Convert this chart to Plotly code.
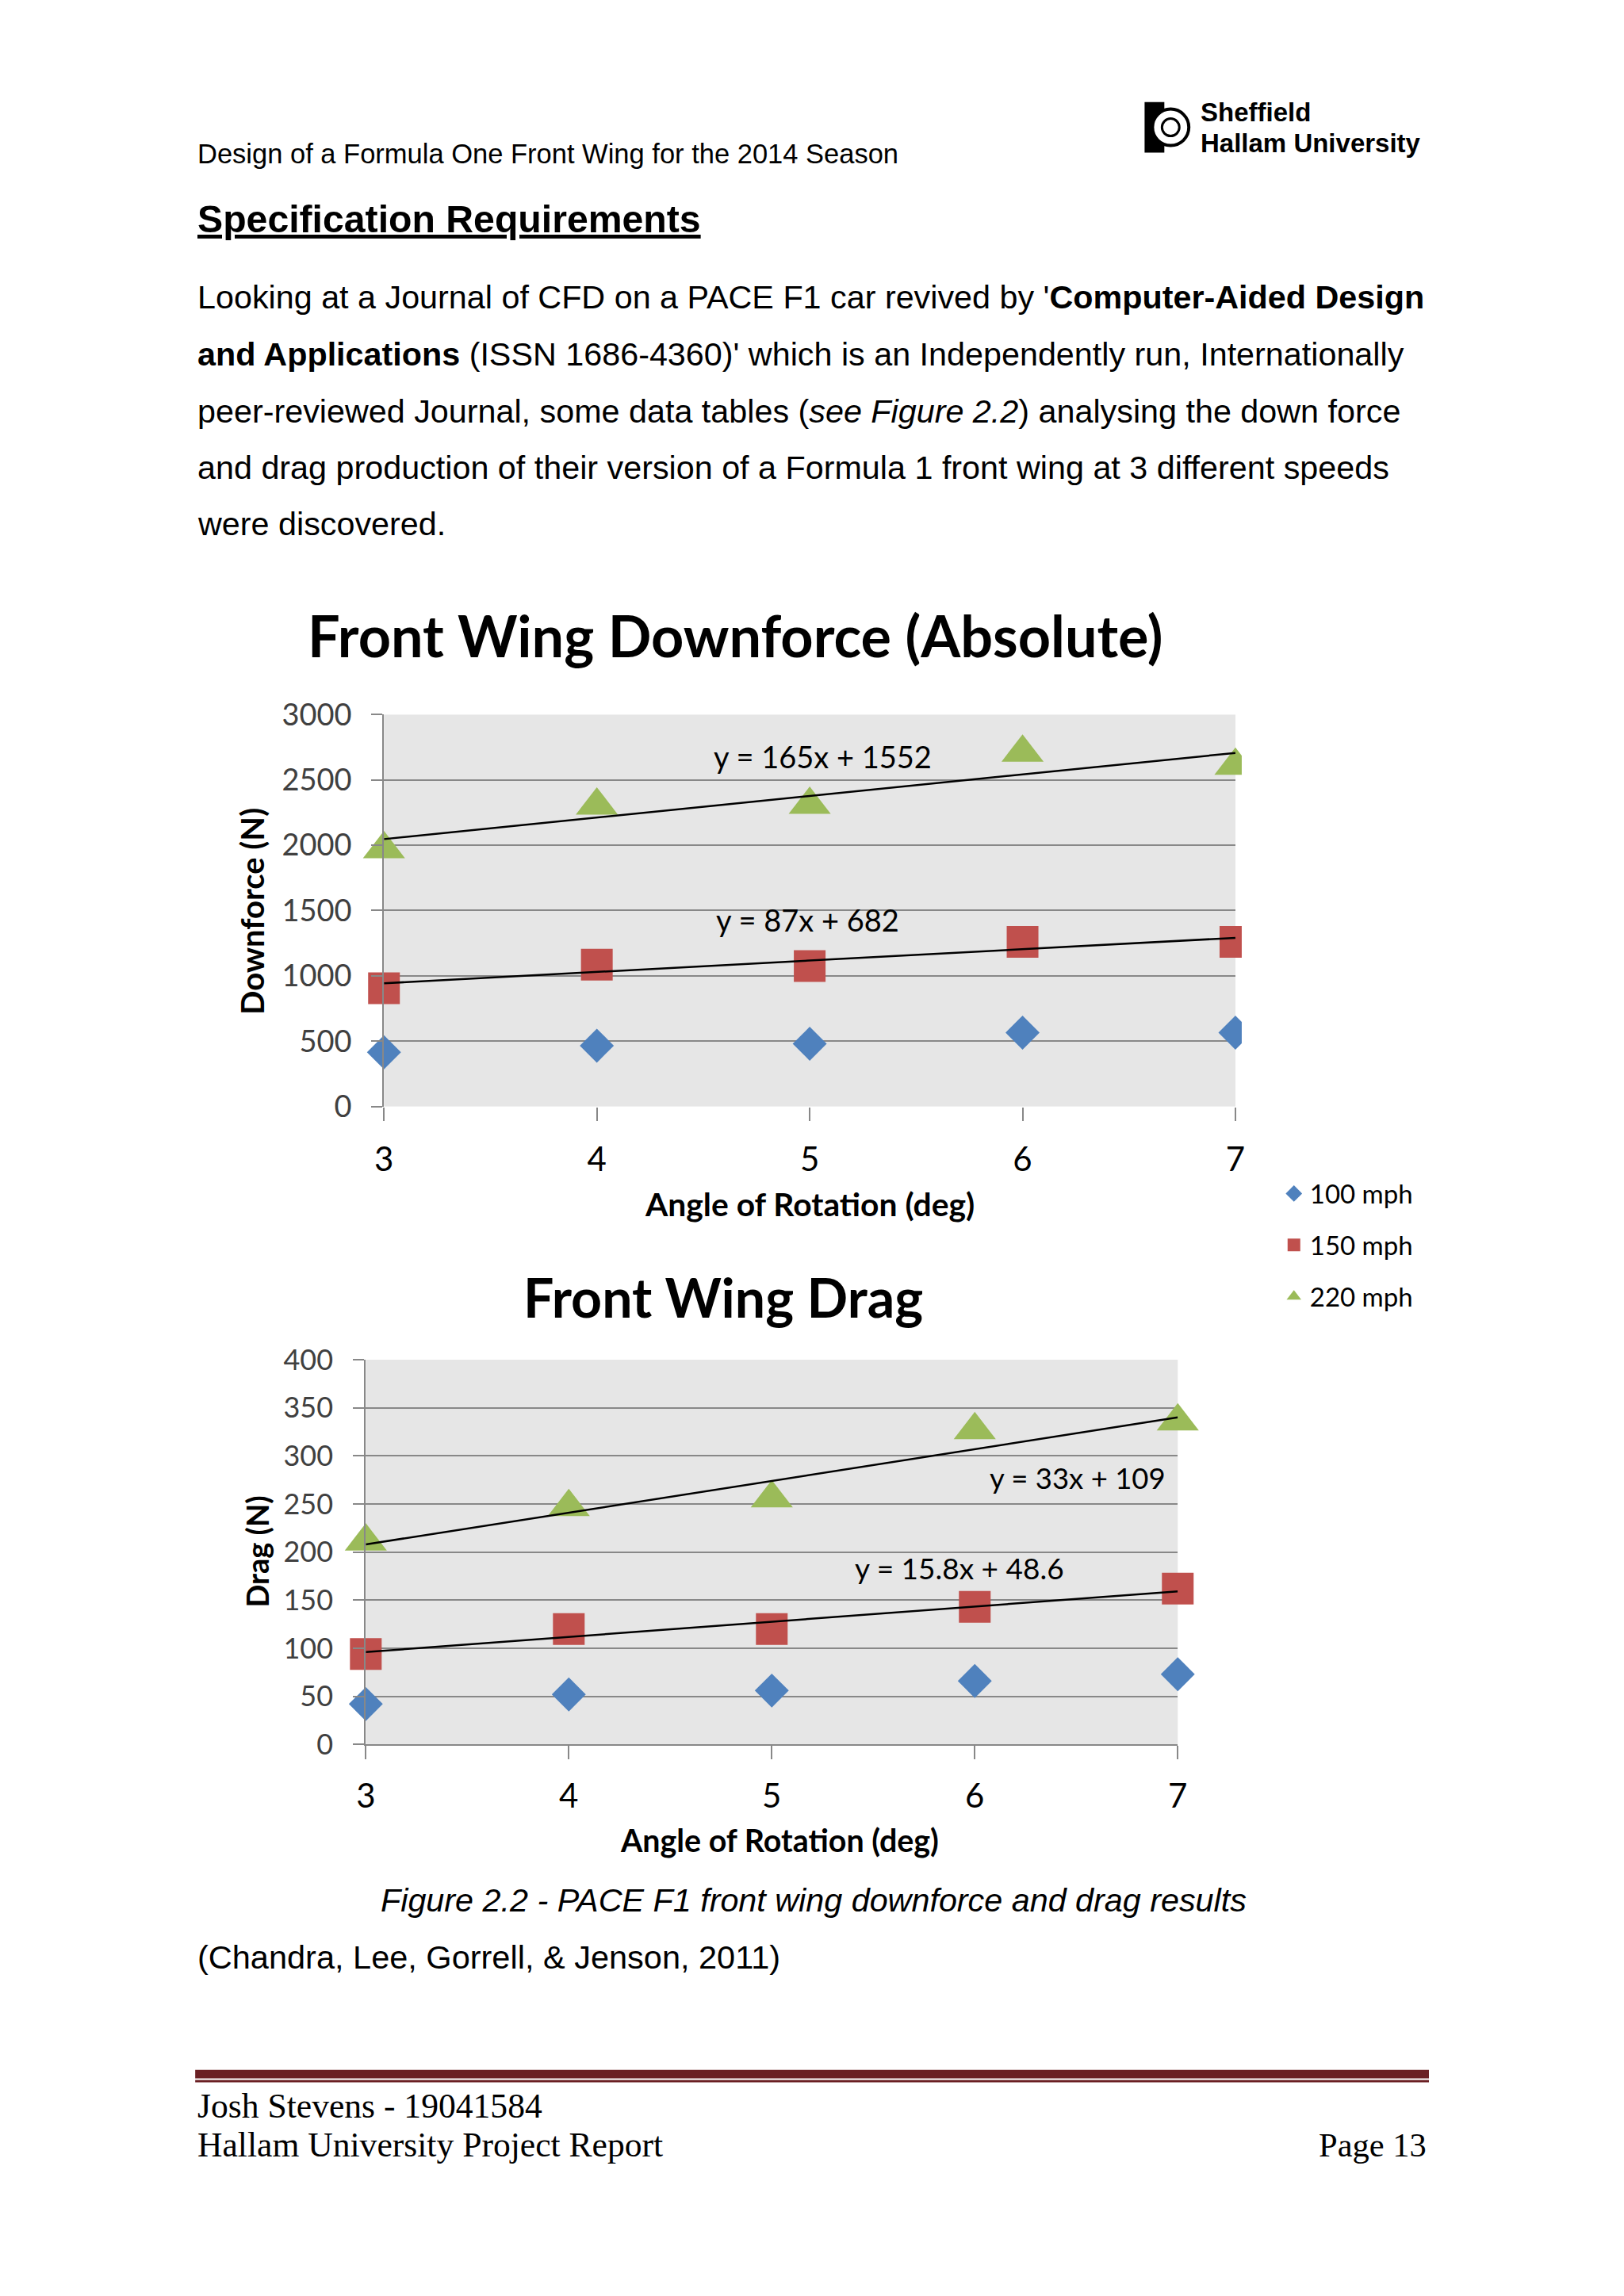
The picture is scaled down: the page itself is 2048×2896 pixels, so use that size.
import plotly.graph_objects as go

W, H = 2048, 2896

# ---------------- data ----------------
angles = [3, 4, 5, 6, 7]
speed_labels = ["100 mph", "150 mph", "220 mph"]

downforce_100 = [415, 465, 480, 565, 565]
downforce_150 = [905, 1085, 1075, 1260, 1260]
downforce_220 = [1970, 2305, 2310, 2710, 2610]

drag_100 = [42, 52, 56, 66, 73]
drag_150 = [94, 120, 120, 143, 162]
drag_220 = [211, 247, 256, 327, 336]

# linear trend lines (slope, intercept) as printed on the charts
downforce_trend_slope = [87, 165]
downforce_trend_intercept = [682, 1552]
downforce_trend_text = ["y = 87x + 682", "y = 165x + 1552"]
drag_trend_slope = [15.8, 33]
drag_trend_intercept = [48.6, 109]
drag_trend_text = ["y = 15.8x + 48.6", "y = 33x + 109"]

y_ticks_downforce = [0, 500, 1000, 1500, 2000, 2500, 3000]
y_ticks_drag = [0, 50, 100, 150, 200, 250, 300, 350, 400]

# ---------------- styles ----------------
colors = ["#4F81BD", "#C0504D", "#9BBB59"]
symbols = ["diamond", "square", "triangle-up"]
msizes = [33, 40, 46]
GRID = "#888888"
PLOTBG = "#E6E6E6"
CHART_FONT = "Lato, Carlito, Calibri, sans-serif"
DOC_FONT = "Liberation Sans, Arial, sans-serif"
SERIF = "Liberation Serif, Cambria, serif"

# page -> screenshot compensation (page margins are scaled into the capture)
AX, BX = 0.9922, 7.9
AY, BY = 0.9857, 22.2


def px(x):
    return ((x - BX) / AX) / W


def py(y):
    return 1 - ((y - BY) / AY) / H


fig = go.Figure()

# ---------------- top chart: downforce ----------------
for i, vals in enumerate([downforce_100, downforce_150, downforce_220]):
    fig.add_trace(go.Scatter(
        x=angles, y=vals, mode="markers", name=speed_labels[i],
        legendgroup=speed_labels[i], showlegend=True, cliponaxis=False,
        marker=dict(symbol=symbols[i], size=msizes[i], color=colors[i], line=dict(width=0)),
        xaxis="x", yaxis="y"))

for s, b in zip(downforce_trend_slope, downforce_trend_intercept):
    xs = [angles[0], angles[-1]]
    fig.add_trace(go.Scatter(x=xs, y=[s * v + b for v in xs], mode="lines",
                             line=dict(color="#000000", width=2.5), showlegend=False,
                             hoverinfo="skip", xaxis="x", yaxis="y"))

# ---------------- bottom chart: drag ----------------
for i, vals in enumerate([drag_100, drag_150, drag_220]):
    fig.add_trace(go.Scatter(
        x=angles, y=vals, mode="markers", name=speed_labels[i],
        legendgroup=speed_labels[i], showlegend=False, cliponaxis=False,
        marker=dict(symbol=symbols[i], size=msizes[i], color=colors[i], line=dict(width=0)),
        xaxis="x2", yaxis="y2"))

for s, b in zip(drag_trend_slope, drag_trend_intercept):
    xs = [angles[0], angles[-1]]
    fig.add_trace(go.Scatter(x=xs, y=[s * v + b for v in xs], mode="lines",
                             line=dict(color="#000000", width=2.5), showlegend=False,
                             hoverinfo="skip", xaxis="x2", yaxis="y2"))

# ---------------- axes ----------------
xcommon = dict(range=[3, 7], tickvals=angles, showgrid=False, zeroline=False,
               ticks="outside", ticklen=17, tickwidth=2, tickcolor=GRID,
               tickfont=dict(family=CHART_FONT, size=42, color="#000"))
ycommon = dict(showgrid=True, gridcolor=GRID, gridwidth=2, zeroline=False,
               ticks="outside", ticklen=14, tickwidth=2, tickcolor=GRID,
               showline=True, linecolor=GRID, linewidth=2)

fig.update_layout(
    xaxis=dict(domain=[px(482), px(1560)], anchor="y", showline=False,
               ticklabelstandoff=13, **xcommon),
    yaxis=dict(domain=[py(1395), py(900)], anchor="x", range=[0, 3000],
               tickvals=y_ticks_downforce, ticklabelstandoff=17,
               tickfont=dict(family=CHART_FONT, size=38, color="#404040"), **ycommon),
    xaxis2=dict(domain=[px(459), px(1487)], anchor="y2", showline=True,
                linecolor=GRID, linewidth=2, ticklabelstandoff=10, **xcommon),
    yaxis2=dict(domain=[py(2201), py(1715)], anchor="x2", range=[0, 400],
                tickvals=y_ticks_drag, ticklabelstandoff=18,
                tickfont=dict(family=CHART_FONT, size=36, color="#404040"), **ycommon),
)

# ---------------- layout ----------------
fig.update_layout(
    width=W, height=H, margin=dict(l=0, r=0, t=0, b=0, pad=0),
    paper_bgcolor="#FFFFFF", plot_bgcolor=PLOTBG,
    legend=dict(x=px(1614), y=py(1477), xanchor="left", yanchor="top",
                font=dict(family=CHART_FONT, size=33, color="#000"),
                tracegroupgap=19, bgcolor="rgba(0,0,0,0)", itemsizing="trace"),
)

# clip right edge of the first chart image
fig.add_shape(type="rect", xref="paper", yref="paper", x0=px(1568), x1=px(1612),
              y0=py(1430), y1=py(870), fillcolor="#FFFFFF", line=dict(width=0), layer="above")

# trend equation labels
eq_font = dict(family=CHART_FONT, color="#000")
fig.add_annotation(text=downforce_trend_text[1], x=5.06, y=2680, xref="x", yref="y",
                   showarrow=False, font=dict(size=38, **eq_font))
fig.add_annotation(text=downforce_trend_text[0], x=4.99, y=1430, xref="x", yref="y",
                   showarrow=False, font=dict(size=38, **eq_font))
fig.add_annotation(text=drag_trend_text[1], x=6.505, y=277, xref="x2", yref="y2",
                   showarrow=False, font=dict(size=36.5, **eq_font))
fig.add_annotation(text=drag_trend_text[0], x=5.925, y=184, xref="x2", yref="y2",
                   showarrow=False, font=dict(size=37, **eq_font))


def text(s, x, cy, size, family=DOC_FONT, anchor="left", color="#000", angle=0):
    fig.add_annotation(text=s, x=px(x), y=py(cy), xref="paper", yref="paper",
                       xanchor=anchor, yanchor="middle", showarrow=False, textangle=angle,
                       font=dict(size=size, family=family, color=color))


# chart titles and axis titles
text("<b>Front Wing Downforce (Absolute)</b>", 927, 799, 72, CHART_FONT, "center")
text("<b>Front Wing Drag</b>", 911, 1635, 68, CHART_FONT, "center")
text("<b>Angle of Rotation (deg)</b>", 1021, 1518, 40.8, CHART_FONT, "center")
text("<b>Angle of Rotation (deg)</b>", 983, 2321, 39.4, CHART_FONT, "center")
text("<b>Downforce (N)</b>", 315, 1148, 40, CHART_FONT, "center", angle=-90)
text("<b>Drag (N)</b>", 321, 1957, 38, CHART_FONT, "center", angle=-90)

# page header
LEFT = 244
text("Design of a Formula One Front Wing for the 2014 Season", LEFT, 191, 34.5)
text("<b>Sheffield</b>", 1514, 139, 33)
text("<b>Hallam University</b>", 1514, 178, 33)
fig.add_shape(type="rect", xref="paper", yref="paper", x0=px(1445), x1=px(1470),
              y0=py(190), y1=py(126), fillcolor="#000", line=dict(width=0))
fig.add_shape(type="circle", xref="paper", yref="paper", x0=px(1455), x1=px(1501),
              y0=py(181), y1=py(135), fillcolor="#FFF", line=dict(color="#000", width=4))
fig.add_shape(type="circle", xref="paper", yref="paper", x0=px(1467), x1=px(1489),
              y0=py(169), y1=py(147), fillcolor="#FFF", line=dict(color="#000", width=3))

text("<b><u>Specification Requirements</u></b>", LEFT, 274, 48.2)

para = [
    "Looking at a Journal of CFD on a PACE F1 car revived by '<b>Computer-Aided Design</b>",
    "<b>and Applications</b> (ISSN 1686-4360)' which is an Independently run, Internationally",
    "peer-reviewed Journal, some data tables (<i>see Figure 2.2</i>) analysing the down force",
    "and drag production of their version of a Formula 1 front wing at 3 different speeds",
    "were discovered.",
]
for line, cy in zip(para, [373, 445, 517, 588, 659]):
    text(line, LEFT, cy, 41.3)

text("<i>Figure 2.2 - PACE F1 front wing downforce and drag results</i>", 1026, 2398, 41.3,
     anchor="center")
text("(Chandra, Lee, Gorrell, & Jenson, 2011)", LEFT, 2470, 41.5)

# footer
fig.add_shape(type="rect", xref="paper", yref="paper", x0=px(243), x1=px(1805),
              y0=py(2623), y1=py(2612), fillcolor="#6B2024", line=dict(width=0))
fig.add_shape(type="rect", xref="paper", yref="paper", x0=px(243), x1=px(1805),
              y0=py(2628), y1=py(2625), fillcolor="#6B2024", line=dict(width=0))
text("Josh Stevens - 19041584", LEFT, 2657, 43.6, SERIF)
text("Hallam University Project Report", LEFT, 2707, 43.6, SERIF)
text("Page 13", 1804, 2707, 42.5, SERIF, anchor="right")

fig.write_html("out.html", config={"displayModeBar": False},
               post_script="document.body.style.margin='0';")
